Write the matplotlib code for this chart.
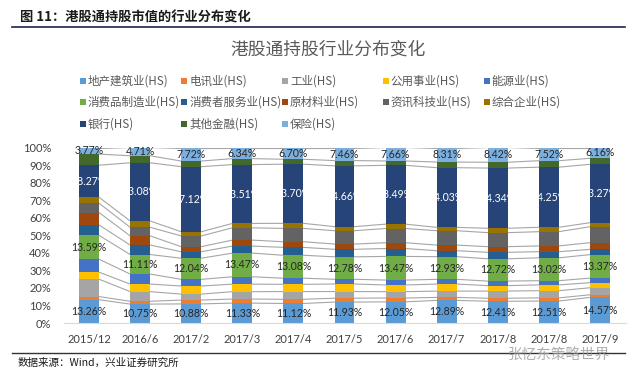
import matplotlib
matplotlib.use("Agg")
import matplotlib.pyplot as plt
from matplotlib.patches import Rectangle
import numpy as np

plt.rcParams['font.family'] = ['Noto Sans CJK SC', 'DejaVu Sans']

categories = ["2015/12", "2016/6", "2017/2", "2017/3", "2017/4", "2017/5",
              "2017/6", "2017/7", "2017/8", "2017/8", "2017/9"]

series_names = ["地产建筑业(HS)", "电讯业(HS)", "工业(HS)", "公用事业(HS)", "能源业(HS)",
                "消费品制造业(HS)", "消费者服务业(HS)", "原材料业(HS)", "资讯科技业(HS)", "综合企业(HS)",
                "银行(HS)", "其他金融(HS)", "保险(HS)"]

dichan      = [13.26, 10.75, 10.88, 11.33, 11.12, 11.93, 12.05, 12.89, 12.41, 12.51, 14.57]
dianxun     = [1.8, 1.6, 2.2, 2.3, 2.4, 2.2, 2.2, 1.7, 1.7, 1.8, 1.5]
gongye      = [9.9, 5.5, 3.4, 4.2, 4.4, 3.8, 3.6, 3.6, 4.1, 4.1, 4.0]
gongyong    = [4.0, 4.3, 4.6, 4.3, 4.1, 4.3, 3.8, 4.0, 3.1, 3.3, 2.9]
nengyuan    = [7.4, 5.7, 3.8, 4.2, 3.5, 2.7, 2.8, 2.7, 2.6, 2.4, 2.6]
xiaofeipin  = [13.59, 11.11, 12.04, 13.47, 13.08, 12.78, 13.47, 12.93, 12.72, 13.02, 13.37]
xiaofeizhe  = [5.9, 5.4, 3.7, 4.0, 4.5, 4.3, 4.5, 3.4, 3.7, 3.5, 3.0]
yuancailiao = [7.1, 5.2, 2.9, 3.4, 3.2, 3.0, 3.3, 3.2, 3.2, 3.3, 3.8]
zixun       = [5.3, 4.9, 6.1, 7.0, 7.6, 7.6, 8.1, 8.2, 8.0, 8.1, 9.1]
zonghe      = [3.4, 3.6, 2.4, 2.5, 2.9, 2.3, 2.5, 1.9, 2.5, 2.5, 2.3]
yinhang     = [18.27, 33.08, 37.12, 33.51, 33.70, 34.66, 33.49, 34.03, 34.34, 34.25, 33.27]
qita        = [6.3, 4.0, 3.2, 3.4, 2.8, 3.0, 2.5, 3.2, 3.3, 3.7, 3.4]
baoxian     = [3.77, 4.71, 7.72, 6.34, 6.70, 7.46, 7.66, 8.31, 8.42, 7.52, 6.16]

colors = ["#5B9BD5", "#ED7D31", "#A5A5A5", "#FFC000", "#4472C4", "#70AD47",
          "#255E91", "#9E480E", "#636363", "#997300", "#264478", "#43682B", "#7CAFDD"]

data = np.array([dichan, dianxun, gongye, gongyong, nengyuan, xiaofeipin, xiaofeizhe,
                 yuancailiao, zixun, zonghe, yinhang, qita, baoxian], dtype=float)
# 100% stacked
data = data / data.sum(axis=0) * 100.0

label_series = {0: dichan, 5: xiaofeipin, 10: yinhang, 12: baoxian}
label_colors = {0: "#262626", 5: "#262626", 10: "white", 12: "#262626"}

W, H = 640, 381
fig = plt.figure(figsize=(W / 100, H / 100), dpi=100)
fig.patch.set_facecolor("white")

ax = fig.add_axes([63.5 / W, (H - 323) / H, 562 / W, 175.5 / H])
x = np.arange(len(categories))
bw = 0.39
bottom = np.zeros(len(categories))
tops = []
for k in range(data.shape[0]):
    ax.bar(x, data[k], bw, bottom=bottom, color=colors[k], edgecolor="none", zorder=2)
    if k in label_series:
        for i in range(len(x)):
            ax.text(x[i], bottom[i] + data[k][i] / 2, f"{label_series[k][i]:.2f}%",
                    ha="center", va="center", fontsize=7.6, color=label_colors[k],
                    family=["Lato", "DejaVu Sans"], zorder=4)
    bottom = bottom + data[k]
    tops.append(bottom.copy())

# series lines
for t in tops:
    for i in range(len(x) - 1):
        ax.plot([x[i] + bw / 2, x[i + 1] - bw / 2], [t[i], t[i + 1]],
                color="#A6A6A6", lw=0.8, zorder=1)

ax.set_xlim(-0.5, len(x) - 0.5)
ax.set_ylim(0, 100)
ax.set_yticks(np.arange(0, 101, 10))
ax.set_yticklabels([f"{v}%" for v in range(0, 101, 10)])
ax.set_xticks(x)
ax.set_xticklabels(categories)
for lab in ax.get_xticklabels() + ax.get_yticklabels():
    lab.set_family(["Lato", "DejaVu Sans"])
    lab.set_fontsize(8)
    lab.set_color("#404040")
ax.tick_params(axis="both", length=0)
ax.tick_params(axis="x", pad=8)
ax.tick_params(axis="y", pad=9)
for s in ["top", "right", "left"]:
    ax.spines[s].set_visible(False)
ax.spines["bottom"].set_color("#D9D9D9")
ax.spines["bottom"].set_linewidth(0.8)
ax.set_facecolor("none")

# header
fig.text(20 / W, 1 - 18 / H, "图 11：港股通持股市值的行业分布变化", fontsize=9.5,
         fontweight="bold", color="#1a1a1a", ha="left", va="center")
fig.add_artist(plt.Line2D([12 / W, 625 / W], [1 - 27 / H, 1 - 27 / H],
                          color="#1F2350", lw=1.2))

# chart title
fig.text(328 / W, 1 - 50 / H, "港股通持股行业分布变化", fontsize=12.8,
         color="#595959", ha="center", va="center")

# legend
col_x = [82.7, 184.3, 285.0, 385.7, 486.7]
row_y = [81, 102, 124]
for k, name in enumerate(series_names):
    r, c = divmod(k, 5)
    mx, my = col_x[c], row_y[r]
    fig.add_artist(Rectangle(((mx - 3) / W, 1 - (my + 3) / H), 6 / W, 6 / H,
                             transform=fig.transFigure, facecolor=colors[k],
                             edgecolor="none"))
    fig.text((mx + 5) / W, 1 - my / H, name, fontsize=8.3, color="#595959",
             ha="left", va="center")

# bottom line and source
fig.add_artist(plt.Line2D([12 / W, 625 / W], [1 - 353 / H, 1 - 353 / H],
                          color="#333333", lw=1.0))
fig.text(18 / W, 1 - 363 / H, "数据来源：Wind，兴业证券研究所", fontsize=7.6,
         color="#1a1a1a", ha="left", va="center")
fig.text(508 / W, 1 - 356 / H, "张忆东策略世界", fontsize=10.5,
         color="#9A9A9A", ha="left", va="center", alpha=0.8)

fig.savefig("out.png", dpi=100, facecolor="white")
